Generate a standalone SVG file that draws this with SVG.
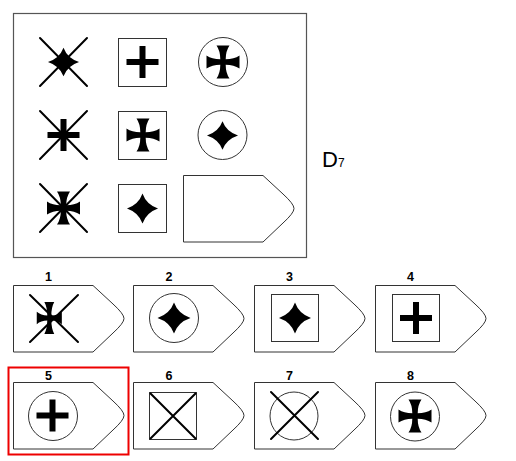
<svg xmlns="http://www.w3.org/2000/svg" xmlns:xlink="http://www.w3.org/1999/xlink" width="516" height="461" viewBox="0 0 516 461">
<style>
.frame{fill:#fff;stroke:#555;stroke-width:1.2}
.thin{fill:#fff;stroke:#333;stroke-width:1}
.pent{fill:#fff;stroke:#333;stroke-width:1}
.x{stroke:#000;stroke-width:2;stroke-linecap:round;fill:none}
.blk{fill:#000}
.lab{font-family:"Liberation Sans",Arial,sans-serif;font-weight:bold;font-size:12.5px;fill:#000;text-anchor:middle}
.sel{fill:none;stroke:#e00;stroke-width:2}
</style>
<defs>
<path id="pattee" d="M-2.7,-2.7 Q-2.7,-11 -6.5,-16.5 L6.5,-16.5 Q2.7,-11 2.7,-2.7 Q11,-2.7 16.5,-6.5 L16.5,6.5 Q11,2.7 2.7,2.7 Q2.7,11 6.5,16.5 L-6.5,16.5 Q-2.7,11 -2.7,2.7 Q-11,2.7 -16.5,6.5 L-16.5,-6.5 Q-11,-2.7 -2.7,-2.7 Z"/>
<path id="star" d="M0,-15 Q4,-4 16,0 Q4,4 0,15 Q-4,4 -16,0 Q-4,-4 0,-15 Z"/>
<path id="plus" d="M-16,-3 H-3 V-16 H3 V-3 H16 V3 H3 V16 H-3 V3 H-16 Z"/>
<path id="pent" d="M0.5,0.5 H80 L100,19 Q111,29 111,33.5 Q111,38 100,48 L80,67 H0.5 Z"/>
</defs>
<g id="matrix">
<rect class="frame" x="13.5" y="13.5" width="293" height="244"/>
<g id="m11"><path class="x" d="M40,38 L87,86 M87,38 L40,86"/><use href="#star" class="blk" transform="translate(63.5,62) scale(0.97,0.95)"/></g>
<g id="m12"><rect class="thin" x="118.5" y="38.5" width="48" height="48"/><use href="#plus" class="blk" transform="translate(142.5,62)"/></g>
<g id="m13"><circle class="thin" cx="223" cy="62" r="24.5"/><use href="#pattee" class="blk" transform="translate(223,62)"/></g>
<g id="m21"><path class="x" d="M40,111 L87,159 M87,111 L40,159"/><use href="#plus" class="blk" transform="translate(63.5,135)"/></g>
<g id="m22"><rect class="thin" x="118.5" y="111.5" width="48" height="48"/><use href="#pattee" class="blk" transform="translate(143,135)"/></g>
<g id="m23"><circle class="thin" cx="222.5" cy="135" r="24.5"/><use href="#star" class="blk" transform="translate(222.5,135.5) scale(0.97,0.95)"/></g>
<g id="m31"><path class="x" d="M40,184 L87,232 M87,184 L40,232"/><use href="#pattee" class="blk" transform="translate(63.5,208)"/></g>
<g id="m32"><rect class="thin" x="118.5" y="184.5" width="48" height="48"/><use href="#star" class="blk" transform="translate(142.5,208.5) scale(0.97,1)"/></g>
<g id="m33"><use href="#pent" class="pent" transform="translate(183,175)"/></g>
</g>
<g id="title"><text x="322" y="167" font-family="Liberation Sans,Arial,sans-serif" font-size="22" fill="#000">D<tspan font-size="12">7</tspan></text></g>
<g id="opt1"><text class="lab" x="48.5" y="281">1</text><use href="#pent" class="pent" transform="translate(13,285)"/><use href="#pattee" class="blk" transform="translate(49.3,318) scale(0.76,0.97)"/><path class="x" d="M30,295 L78,342 M78,295 L30,342"/></g>
<g id="opt2"><text class="lab" x="169" y="281">2</text><use href="#pent" class="pent" transform="translate(133,285)"/><circle class="thin" cx="174" cy="318" r="24.5"/><use href="#star" class="blk" transform="translate(174,318) scale(1.03,1.03)"/></g>
<g id="opt3"><text class="lab" x="289.5" y="281">3</text><use href="#pent" class="pent" transform="translate(254,285)"/><rect class="thin" x="271.5" y="294.5" width="47" height="47"/><use href="#star" class="blk" transform="translate(295,318) scale(1,1.03)"/></g>
<g id="opt4"><text class="lab" x="410.5" y="281">4</text><use href="#pent" class="pent" transform="translate(375,285)"/><rect class="thin" x="392.5" y="294.5" width="47" height="47"/><use href="#plus" class="blk" transform="translate(416,318)"/></g>
<g id="opt5"><text class="lab" x="48.5" y="380">5</text><use href="#pent" class="pent" transform="translate(13,382)"/><circle class="thin" cx="53" cy="416" r="24.5"/><use href="#plus" class="blk" transform="translate(52.5,415.5)"/></g>
<g id="opt6"><text class="lab" x="169" y="380">6</text><use href="#pent" class="pent" transform="translate(133,382)"/><rect class="thin" x="149.5" y="392.5" width="47" height="47"/><path class="x" d="M150,393 L196,439 M196,393 L150,439" style="stroke-linecap:butt"/></g>
<g id="opt7"><text class="lab" x="289.5" y="380">7</text><use href="#pent" class="pent" transform="translate(254,382)"/><circle class="thin" cx="294" cy="416" r="24"/><path class="x" d="M271,392 L318,439 M318,392 L271,439"/></g>
<g id="opt8"><text class="lab" x="410.5" y="380">8</text><use href="#pent" class="pent" transform="translate(375,382)"/><circle class="thin" cx="415" cy="416.5" r="24.5"/><use href="#pattee" class="blk" transform="translate(415,416)"/></g>
<g id="connectors"></g>
<rect id="selection" class="sel" x="8.5" y="367.5" width="120" height="87"/>
</svg>
